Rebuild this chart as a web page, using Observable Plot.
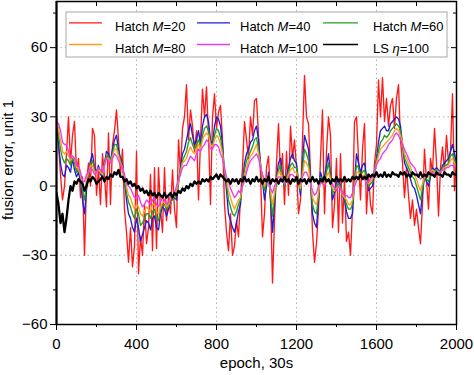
<!DOCTYPE html>
<html><head><meta charset="utf-8">
<script src="https://cdn.jsdelivr.net/npm/d3@7"></script>
<script src="https://cdn.jsdelivr.net/npm/@observablehq/plot@0.6"></script>
<style>html,body{margin:0;padding:0;background:#fff;}</style>
</head><body><div id="chart"></div>
<script>
// ---- data ----
const seriesNames = ["Hatch M=20", "Hatch M=40", "Hatch M=60", "Hatch M=80", "Hatch M=100", "LS η=100"];
const seriesColors = ["#ff1a1a", "#1f1fcf", "#22a022", "#ff9e1f", "#e83cf0", "#000000"];
const epochs = d3.range(0, 2001, 10);

const hatchM20 = [
  30, 18, 5, -6, 0, 14, 30, 10, 22, 28,
  6, 12, -5, 4, -30, 2, 10, 0, 25, 22,
  -4, 8, -8, 14, 4, -9, 23, -8, 18, 24,
  33, 20, 5, 16, -10, -20, -33, -18, -35, -26,
  15, -38, -22, -30, -8, -25, -18, 5, -28, 8,
  -27, 8, -10, -20, 8, -15, -5, -12, 7, -10,
  -18, 20, 6, 25, 30, 44, 20, 33, 26, 15,
  24, -6, 20, 42, 30, 43, 22, -8, 30, 40,
  25, 32, 35, 20, -8, -20, -28, -12, -30, -26,
  -15, -22, -5, 8, 28, 20, 12, 30, 22, 37,
  38, 22, 5, -22, -12, 8, 13, -5, -42, -15,
  10, 27, 5, 14, -8, 15, -4, 26, 12, 20,
  8, -12, -6, 20, 48, 30, 27, 6, -20, -33,
  -25, -10, 12, 33, -12, 15, 30, 22, -18, -8,
  12, -20, 14, -16, 3, -24, -20, -30, -10, 28,
  30, 12, -6, 16, 27, -12, 5, -8, -12, 10,
  18, 46, 30, 47, 28, 38, 26, 35, 38, 25,
  38, 44, 20, 10, -5, 8, -4, -14, -6, -17,
  -10, -18, -25, -8, 16, 2, -10, 12, 6, 25,
  10, -13, 8, 17, 6, 22, 10, 15, 40, -2,
  12
];
const hatchM40 = [
  28, 18, 10, 5, 4, 9, 8, 6, 12, 7, 4, 6, 2, -6, -12, -2, 5, 11, 14, 8,
  6, 9, 5, 4, 10, 15, 14, 11, 16, 20, 22, 16, 12, 9, 2, -6, -12, -14, -18, -20,
  -14, -18, -24, -21, -18, -15, -16, -19, -14, -13, -18, -19, -12, -9, -10, -13, -10, -6, -6, -5,
  -6, 2, 8, 14, 16, 20, 24, 27, 22, 18, 20, 24, 18, 26, 30, 31, 28, 20, 18, 26,
  30, 29, 26, 18, 6, -2, -12, -15, -18, -20, -16, -11, -8, 2, 10, 14, 16, 19, 20, 24,
  26, 20, 10, 2, -6, 0, 6, -6, -20, -8, 4, 10, 12, 5, 0, 4, 8, 12, 14, 11,
  10, 2, -4, 10, 22, 19, 16, 2, -12, -16, -18, -6, 6, 3, 4, 9, 14, 5, -6, -3,
  2, 3, 0, -4, -6, -11, -14, -14, -12, 2, 14, 10, 6, 9, 10, 4, -2, -1, 0, 6,
  12, 19, 24, 25, 26, 24, 24, 27, 28, 29, 30, 29, 26, 18, 10, 8, 6, 3, 0, -1,
  -4, -8, -12, -3, 4, 2, 0, 4, 8, 7, 8, 7, 6, 9, 10, 11, 12, 15, 18, 14,
  10
];
const hatchM60 = [
  28, 22, 16, 12, 10, 12, 11, 9, 12, 10, 6, 7, 4, -2, -6, 1, 5, 9, 11, 7,
  6, 8, 6, 5, 10, 13, 13, 11, 14, 18, 18, 14, 11, 8, 3, -3, -7, -9, -12, -14,
  -10, -12, -17, -16, -14, -12, -12, -14, -11, -10, -14, -15, -10, -8, -8, -10, -9, -6, -6, -5,
  -4, 1, 7, 11, 13, 15, 19, 21, 18, 16, 18, 20, 17, 22, 25, 26, 24, 19, 17, 22,
  25, 24, 21, 15, 7, 1, -6, -9, -12, -13, -11, -8, -6, 1, 7, 11, 13, 15, 17, 20,
  21, 16, 9, 3, -2, 2, 4, -4, -13, -5, 3, 7, 9, 4, 0, 3, 6, 9, 10, 8,
  8, 2, -2, 7, 16, 14, 11, 2, -8, -11, -12, -4, 4, 2, 2, 6, 10, 4, -3, -2,
  0, 1, 0, -3, -5, -8, -10, -10, -8, 1, 9, 8, 5, 6, 7, 3, 0, 1, 2, 7,
  11, 15, 19, 20, 22, 21, 22, 24, 25, 26, 27, 26, 24, 18, 12, 10, 8, 6, 4, 3,
  0, -3, -6, -1, 4, 3, 2, 5, 7, 6, 7, 7, 6, 8, 9, 9, 10, 13, 14, 11,
  9
];
const hatchM80 = [
  28, 25, 20, 15, 14, 15, 13, 11, 13, 12, 8, 8, 5, 0, -2, 3, 6, 9, 9, 6,
  6, 7, 6, 5, 9, 12, 12, 10, 13, 16, 16, 13, 10, 8, 4, 0, -4, -5, -8, -10,
  -8, -9, -12, -13, -11, -9, -10, -11, -8, -8, -11, -12, -9, -7, -7, -9, -8, -5, -5, -4,
  -2, 2, 6, 10, 11, 12, 15, 17, 15, 14, 16, 18, 16, 20, 22, 23, 22, 18, 17, 20,
  22, 21, 18, 14, 7, 3, -2, -5, -8, -10, -8, -6, -5, 0, 4, 8, 11, 13, 14, 16,
  18, 14, 9, 4, 0, 2, 3, -2, -8, -3, 3, 6, 6, 3, 1, 3, 5, 7, 8, 6,
  6, 2, -1, 5, 11, 10, 8, 2, -5, -7, -8, -3, 3, 1, 1, 4, 6, 3, -1, -2,
  -1, 0, -1, -4, -5, -6, -8, -8, -6, 0, 6, 6, 5, 4, 5, 2, 1, 2, 3, 6,
  10, 13, 16, 17, 18, 19, 20, 21, 22, 24, 25, 24, 22, 19, 14, 12, 10, 8, 6, 5,
  3, 0, -2, 1, 4, 4, 4, 6, 7, 6, 6, 6, 6, 7, 8, 8, 9, 11, 12, 10,
  9
];
const hatchM100 = [
  28, 27, 24, 19, 18, 18, 15, 12, 13, 12, 9, 9, 6, 2, 2, 5, 6, 8, 7, 5,
  6, 8, 7, 6, 9, 12, 11, 10, 12, 14, 13, 11, 9, 8, 5, 1, 0, -1, -3, -5,
  -5, -4, -7, -9, -8, -6, -7, -8, -6, -5, -8, -9, -7, -5, -6, -8, -7, -4, -5, -3,
  0, 3, 5, 8, 9, 9, 11, 13, 12, 11, 14, 16, 15, 17, 18, 20, 19, 16, 16, 18,
  18, 17, 14, 12, 8, 4, 2, -1, -3, -5, -4, -2, -3, 0, 2, 6, 9, 11, 12, 13,
  14, 12, 8, 5, 3, 3, 2, -1, -3, 0, 2, 4, 4, 2, 1, 3, 3, 5, 5, 4,
  4, 2, 1, 4, 6, 6, 4, 1, -2, -4, -3, 0, 2, 1, 0, 2, 3, 2, 1, -1,
  -2, 0, -1, -3, -4, -4, -5, -5, -3, 0, 2, 4, 4, 3, 3, 1, 2, 3, 4, 6,
  9, 11, 12, 14, 15, 16, 18, 19, 20, 22, 23, 22, 20, 18, 16, 14, 12, 10, 9, 8,
  6, 4, 3, 4, 4, 5, 5, 6, 6, 5, 5, 6, 6, 7, 7, 8, 8, 9, 9, 8,
  8
];
const lsEta100 = [
  -3, -8, -16, -12, -20, -14, -6, 0, -2, 2,
  1, 3, 2, 1, -2, 0, 3, 2, 4, 3,
  1, 2, 3, 4, 2, 4, 3, 5, 4, 6,
  5, 7, 4, 4, 2, 3, 1, 2, 0, 1,
  -1, 0, -2, -1, -3, -2, -4, -2, -4, -3,
  -5, -3, -4, -5, -3, -5, -4, -3, -5, -3,
  -4, -2, -3, -1, -2, 0, -1, 1, 0, 2,
  1, 2, 1, 3, 2, 3, 2, 4, 3, 4,
  5, 3, 5, 4, 3, 2, 3, 1, 3, 2,
  3, 1, 3, 2, 4, 2, 3, 1, 3, 2,
  4, 2, 3, 1, 3, 2, 4, 1, 3, 2,
  3, 1, 3, 2, 4, 2, 3, 1, 3, 2,
  4, 1, 3, 2, 3, 1, 3, 2, 4, 2,
  3, 1, 3, 2, 4, 2, 3, 1, 3, 2,
  4, 2, 3, 2, 4, 2, 3, 2, 4, 3,
  4, 3, 5, 3, 4, 3, 5, 4, 5, 4,
  6, 4, 5, 4, 6, 4, 5, 4, 6, 5,
  5, 4, 6, 5, 6, 4, 5, 4, 6, 5,
  5, 4, 6, 4, 5, 4, 6, 5, 5, 4,
  6, 5, 5, 4, 6, 5, 5, 4, 6, 5,
  5
];

const xMajorTicks = [0, 400, 800, 1200, 1600, 2000];
const xMinorTicks = [200, 600, 1000, 1400, 1800];
const yMajorTicks = [-60, -30, 0, 30, 60];
const yMinorTicks = [-45, -15, 15, 45, 75];
const xLabel = "epoch, 30s";
const yLabel = "fusion error, unit 1";

// ---- build table ----
const seriesValues = [hatchM20, hatchM40, hatchM60, hatchM80, hatchM100, lsEta100];
const hatchRows = [];
const lsRows = [];
seriesValues.forEach((vals, i) => {
  vals.forEach((v, j) => {
    const row = {series: seriesNames[i], epoch: epochs[j], value: v};
    (i === 5 ? lsRows : hatchRows).push(row);
  });
});

const W = 474, H = 375, mL = 56, mR = 18, mT = 1, mB = 51;
const plotW = W - mL - mR, plotH = H - mT - mB;
const font = "'Liberation Sans', Arial, Helvetica, sans-serif";

const chart = Plot.plot({
  width: W, height: H,
  marginLeft: mL, marginRight: mR, marginTop: mT, marginBottom: mB,
  style: {fontFamily: font, fontSize: "15px", color: "#000", background: "#fff"},
  x: {domain: [0, 2000]},
  y: {domain: [-60, 80]},
  color: {domain: seriesNames, range: seriesColors},
  marks: [
    Plot.gridX(xMajorTicks.slice(1, -1), {stroke: "#b0b0b0", strokeOpacity: 1, strokeDasharray: "1.5,3"}),
    Plot.gridY(yMajorTicks.slice(1), {stroke: "#b0b0b0", strokeOpacity: 1, strokeDasharray: "1.5,3"}),
    Plot.line(hatchRows, {x: "epoch", y: "value", z: "series", stroke: "series", strokeWidth: 1.35, clip: true}),
    Plot.line(lsRows, {x: "epoch", y: "value", stroke: "series", strokeWidth: 2.3, clip: true}),
    Plot.frame({stroke: "#000", strokeWidth: 1.5}),
    Plot.ruleX([0], {strokeWidth: 2}),
    Plot.axisX(xMajorTicks, {tickSize: 6, tickPadding: 8, label: null, fontSize: 15, tickFormat: "d"}),
    Plot.axisX(xMinorTicks, {tickSize: 3, text: null, label: null}),
    Plot.axisY(yMajorTicks, {tickSize: 6, tickPadding: 3, label: null, fontSize: 15, tickFormat: "d"}),
    Plot.axisY(yMinorTicks, {tickSize: 3, text: null, label: null}),
    Plot.tickX(xMajorTicks.concat(xMinorTicks).filter(d => d > 0 && d < 2000), {x: d => d, insetBottom: plotH - 5, stroke: "#000"}),
    Plot.tickY(yMajorTicks.slice(1), {y: d => d, insetLeft: plotW - 5, stroke: "#000"}),
    Plot.tickY(yMinorTicks, {y: d => d, insetLeft: plotW - 3, stroke: "#000"}),
    Plot.text([xLabel], {text: d => d, frameAnchor: "bottom", dy: 43, fontSize: 15, textAnchor: "middle"}),
    Plot.text([yLabel], {text: d => d, frameAnchor: "left", rotate: -90, dx: -48, dy: -3, fontSize: 15, textAnchor: "middle"})
  ]
});

// ---- legend ----
const svg = d3.select(chart);
const lg = svg.append("g").attr("font-family", font).attr("font-size", 13).attr("text-anchor", "start");
lg.append("rect").attr("x", 66).attr("y", 12).attr("width", 381).attr("height", 45)
  .attr("fill", "#fff").attr("stroke", "#a8a8a8").attr("stroke-width", 1);
const colLine = [[69, 102], [197, 230], [323, 358]];
const colText = [115, 240, 373];
const rowLine = [22.8, 44.5];
const rowText = [30.6, 53];
seriesNames.forEach((name, i) => {
  const r = Math.floor(i / 3), c = i % 3;
  lg.append("line").attr("x1", colLine[c][0]).attr("x2", colLine[c][1])
    .attr("y1", rowLine[r]).attr("y2", rowLine[r])
    .attr("stroke", seriesColors[i]).attr("stroke-width", 1.3);
  const m = name.match(/^(.*\s)(\S)(=\d+)$/);
  const t = lg.append("text").attr("x", colText[c]).attr("y", rowText[r])
    .attr("fill", "#000").attr("text-anchor", "start");
  t.append("tspan").text(m[1]);
  t.append("tspan").attr("font-style", "italic").text(m[2]);
  t.append("tspan").text(m[3]);
});

document.getElementById("chart").appendChild(chart);
</script>
</body></html>
